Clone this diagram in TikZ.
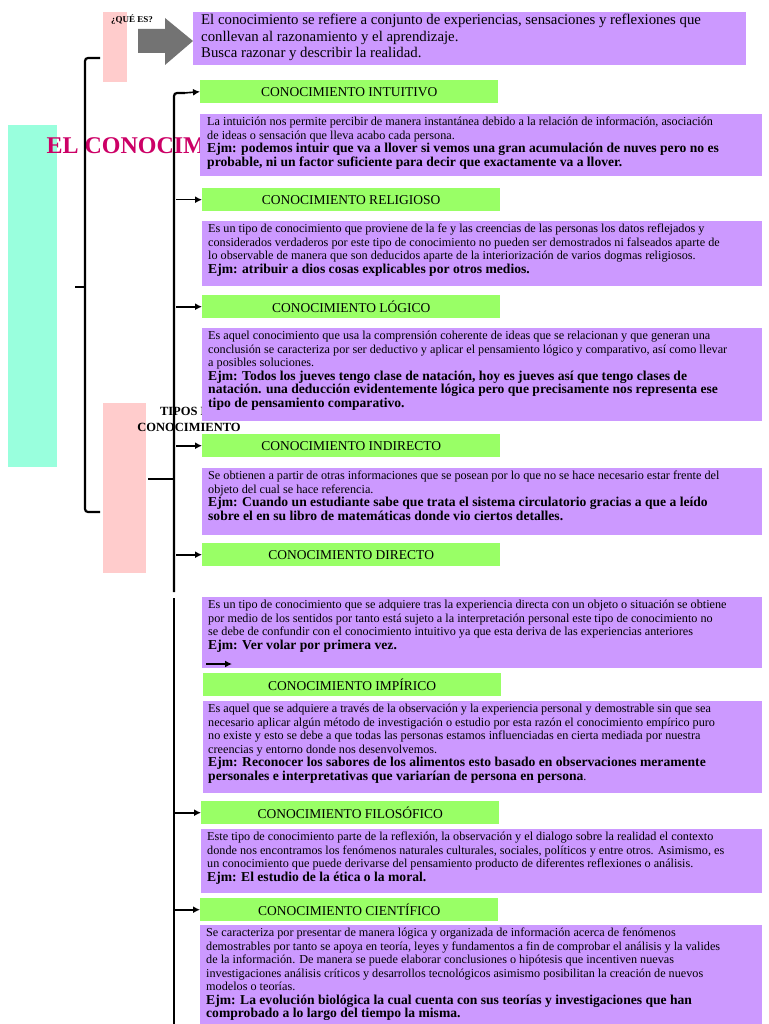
\documentclass[tikz,border=0pt]{standalone}
\usepackage{fontspec}
\setmainfont{Liberation Serif}
\usetikzlibrary{positioning,arrows.meta}
\definecolor{lila}{HTML}{CC99FF}
\definecolor{verde}{HTML}{99FF66}
\definecolor{rosa}{HTML}{FFCCCC}
\definecolor{menta}{HTML}{99FFDD}
\definecolor{titulo}{HTML}{CC0066}
\newcommand\ejm[1]{{\fontsize{13.6}{13.5}\selectfont\bfseries #1}}

\begin{document}
\begin{tikzpicture}
[x=1pt, y=-1pt,
descbox/.style={fill=lila, anchor=north west, inner sep=0pt},
desctext/.style={anchor=north west, align=left, inner sep=0pt, font=\fontsize{12.2}{13.5}\selectfont},
tipobox/.style={fill=verde, minimum width=298pt, minimum height=23pt, anchor=north west, inner sep=0pt, font=\fontsize{13.5}{14}\selectfont},
flecha/.style={line width=1.6pt, -{Latex[length=7pt,width=7pt]}},
llave/.style={line width=2.2pt, rounded corners=3pt},
]
    \useasboundingbox (0,0) rectangle (768,1024);
    % left side
    \fill[menta] (8,125) rectangle (57,467);
    \node (tit) [anchor=west, text=titulo, font=\fontsize{24}{26}\selectfont\bfseries] at (43,146) {EL CONOCIMIENTO};
    \fill[rosa] (103,12) rectangle (127,82);
    \fill[rosa] (103,403) rectangle (146,573);
    \node (tipos) [anchor=north, align=center, inner sep=0pt, font=\fontsize{12.5}{16}\selectfont\bfseries] at (189,407) {TIPOS DE\\CONOCIMIENTO};
    \fill[black!55] (138,29) -- (165,29) -- (165,18) -- (193,41) -- (165,65) -- (165,53) -- (138,53) -- cycle;
    \node (que) [anchor=north west, inner sep=0pt, font=\fontsize{9}{10}\selectfont\bfseries] at (111,15) {¿QUÉ ES?};
    \draw[llave] (100,58) -- (85,58) -- (85,512) -- (100,512);
    \draw[llave] (75,287) -- (85,287);

    % top description
    \node (defbox) [descbox, minimum width=553pt, minimum height=53pt] at (193,12) {};
    \node (deftext) [desctext, font=\fontsize{14.8}{16.5}\selectfont] at (201,14) {El conocimiento se refiere a conjunto de experiencias, sensaciones y reflexiones que\\conllevan al razonamiento y el aprendizaje.\\Busca razonar y describir la realidad.};

    % types
    \node (intu) [tipobox] at (200,80) {CONOCIMIENTO INTUITIVO};
    \node (intubox) [descbox, minimum width=562pt, minimum height=62pt] at (200,114) {};
    \node (intutext) [desctext] at (207,117) {La intuición nos permite percibir de manera instantánea debido a la relación de información, asociación\\de ideas o sensación que lleva acabo cada persona.\\\ejm{Ejm: podemos intuir que va a llover si vemos una gran acumulación de nuves pero no es}\\\ejm{probable, ni un factor suficiente para decir que exactamente va a llover.}};

    \node (reli) [tipobox] at (202,188) {CONOCIMIENTO RELIGIOSO};
    \node (relibox) [descbox, minimum width=560pt, minimum height=65pt] at (202,221) {};
    \node (relitext) [desctext] at (208,224) {Es un tipo de conocimiento que proviene de la fe y las creencias de las personas los datos reflejados y\\considerados verdaderos por este tipo de conocimiento no pueden ser demostrados ni falseados aparte de\\lo observable de manera que son deducidos aparte de la interiorización de varios dogmas religiosos.\\\ejm{Ejm: atribuir a dios cosas explicables por otros medios.}};

    \node (logi) [tipobox] at (202,295) {CONOCIMIENTO LÓGICO};
    \node (logibox) [descbox, minimum width=560pt, minimum height=93pt] at (202,328) {};
    \node (logitext) [desctext] at (208,331) {Es aquel conocimiento que usa la comprensión coherente de ideas que se relacionan y que generan una\\conclusión se caracteriza por ser deductivo y aplicar el pensamiento lógico y comparativo, así como llevar\\a posibles soluciones.\\\ejm{Ejm: Todos los jueves tengo clase de natación, hoy es jueves así que tengo clases de}\\\ejm{natación. una deducción evidentemente lógica pero que precisamente nos representa ese}\\\ejm{tipo de pensamiento comparativo.}};

    \node (indi) [tipobox] at (202,434) {CONOCIMIENTO INDIRECTO};
    \node (indibox) [descbox, minimum width=560pt, minimum height=67pt] at (202,468) {};
    \node (inditext) [desctext] at (208,471) {Se obtienen a partir de otras informaciones que se posean por lo que no se hace necesario estar frente del\\objeto del cual se hace referencia.\\\ejm{Ejm: Cuando un estudiante sabe que trata el sistema circulatorio gracias a que a leído}\\\ejm{sobre el en su libro de matemáticas donde vio ciertos detalles.}};

    \node (dire) [tipobox] at (202,543) {CONOCIMIENTO DIRECTO};
    \node (direbox) [descbox, minimum width=560pt, minimum height=71pt] at (202,597) {};
    \node (diretext) [desctext] at (208,600) {Es un tipo de conocimiento que se adquiere tras la experiencia directa con un objeto o situación se obtiene\\por medio de los sentidos por tanto está sujeto a la interpretación personal este tipo de conocimiento no\\se debe de confundir con el conocimiento intuitivo ya que esta deriva de las experiencias anteriores\\\ejm{Ejm: Ver volar por primera vez.}};

    \node (empi) [tipobox] at (203,673) {CONOCIMIENTO IMPÍRICO};
    \node (empibox) [descbox, minimum width=559pt, minimum height=92pt] at (203,701) {};
    \node (empitext) [desctext] at (208,704) {Es aquel que se adquiere a través de la observación y la experiencia personal y demostrable sin que sea\\necesario aplicar algún método de investigación o estudio por esta razón el conocimiento empírico puro\\no existe y esto se debe a que todas las personas estamos influenciadas en cierta mediada por nuestra\\creencias y entorno donde nos desenvolvemos.\\\ejm{Ejm: Reconocer los sabores de los alimentos esto basado en observaciones meramente}\\\ejm{personales e interpretativas que variarían de persona en persona}.};

    \node (filo) [tipobox] at (201,801) {CONOCIMIENTO FILOSÓFICO};
    \node (filobox) [descbox, minimum width=561pt, minimum height=64pt] at (201,829) {};
    \node (filotext) [desctext] at (207,832) {Este tipo de conocimiento parte de la reflexión, la observación y el dialogo sobre la realidad el contexto\\donde nos encontramos los fenómenos naturales culturales, sociales, políticos y entre otros. Asimismo, es\\un conocimiento que puede derivarse del pensamiento producto de diferentes reflexiones o análisis.\\\ejm{Ejm: El estudio de la ética o la moral.}};

    \node (cien) [tipobox] at (200,898) {CONOCIMIENTO CIENTÍFICO};
    \node (cienbox) [descbox, minimum width=562pt, minimum height=110pt] at (200,925) {};
    \node (cientext) [desctext] at (206,928) {Se caracteriza por presentar de manera lógica y organizada de información acerca de fenómenos\\demostrables por tanto se apoya en teoría, leyes y fundamentos a fin de comprobar el análisis y la valides\\de la información. De manera se puede elaborar conclusiones o hipótesis que incentiven nuevas\\investigaciones análisis críticos y desarrollos tecnológicos asimismo posibilitan la creación de nuevos\\modelos o teorías.\\\ejm{Ejm: La evolución biológica la cual cuenta con sus teorías y investigaciones que han}\\\ejm{comprobado a lo largo del tiempo la misma.}};

    % connectors
    \draw[llave] (174,592) -- (174,93) -- (185,93);
    \draw[flecha] (184,93) -- (intu.west);
    \draw[llave] (148,479) -- (174,479);
    \draw[llave] (174,598) -- (174,1024);
    \coordinate (dirfle) at (206,664);
    \draw[flecha] (dirfle) -- ++(26,0);
    \foreach \tipo in {reli,logi,indi,dire,filo,cien}
        \draw[flecha] (\tipo.west) ++(-26,0) -- (\tipo.west);
\end{tikzpicture}
\end{document}
